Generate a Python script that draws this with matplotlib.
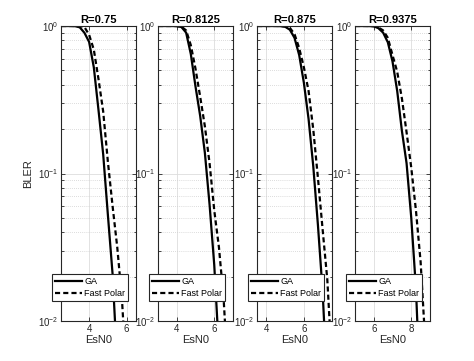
#!/usr/bin/env python3
"""BLER vs EsN0 for four code rates: GA construction vs Fast Polar."""

import matplotlib.pyplot as plt
import numpy as np
from matplotlib.ticker import FixedLocator, LogLocator, NullFormatter

plt.rcParams["font.family"] = ["Liberation Sans", "DejaVu Sans"]

rates = ["R=0.75", "R=0.8125", "R=0.875", "R=0.9375"]
x_limits = [(2.5, 6.5), (3.0, 7.0), (3.5, 7.5), (5.0, 9.0)]
x_ticks = [[4, 6], [4, 6], [4, 6], [6, 8]]

# EsN0 grid and log10(BLER)
esn0_1 = [2.5, 2.75, 3.0, 3.25, 3.5, 3.75, 4.0, 4.25, 4.5, 4.75, 5.0, 5.25, 5.5, 5.75, 6.0]
ga_1 = [0, 0, 0, -0.001, -0.009, -0.046, -0.108, -0.28, -0.57, -0.87, -1.28, -1.68, -2.3, None, None]
fp_1 = [0, 0, 0, 0, -0.001, -0.007, -0.06, -0.16, -0.36, -0.58, -0.92, -1.22, -1.5, -1.85, -2.4]

esn0_2 = [3.0, 3.25, 3.5, 3.75, 4.0, 4.25, 4.5, 4.75, 5.0, 5.25, 5.5, 5.75, 6.0, 6.25, 6.5, 6.75]
ga_2 = [0, 0, 0, 0, -0.001, -0.007, -0.045, -0.19, -0.41, -0.61, -0.86, -1.21, -1.62, -2.2, None, None]
fp_2 = [0, 0, 0, 0, 0, -0.004, -0.03, -0.13, -0.29, -0.48, -0.68, -0.93, -1.25, -1.5, -1.85, -2.4]

esn0_3 = [3.5, 3.75, 4.0, 4.25, 4.5, 4.75, 5.0, 5.25, 5.5, 5.75, 6.0, 6.25, 6.5, 6.75, 7.0, 7.25, 7.5]
ga_3 = [0, 0, 0, 0, 0, -0.001, -0.005, -0.025, -0.08, -0.197, -0.385, -0.63, -0.95, -1.35, -1.8, -2.45, None]
fp_3 = [0, 0, 0, 0, 0, 0, -0.002, -0.012, -0.055, -0.15, -0.28, -0.44, -0.7, -1.03, -1.38, -1.72, -2.3]

esn0_4 = [5.0, 5.25, 5.5, 5.75, 6.0, 6.25, 6.5, 6.75, 7.0, 7.25, 7.5, 7.75, 8.0, 8.25, 8.5, 8.75]
ga_4 = [0, 0, 0, -0.0005, -0.002, -0.015, -0.045, -0.11, -0.24, -0.44, -0.71, -0.93, -1.3, -1.78, -2.55, None]
fp_4 = [0, 0, 0, 0, -0.001, -0.01, -0.03, -0.08, -0.197, -0.31, -0.49, -0.72, -0.96, -1.25, -1.6, -2.15]

esn0 = [esn0_1, esn0_2, esn0_3, esn0_4]
ga = [ga_1, ga_2, ga_3, ga_4]
fast_polar = [fp_1, fp_2, fp_3, fp_4]


def to_bler(logs):
    # None marks points below the plotted range
    return np.array([np.nan if v is None else 10.0 ** v for v in logs])


def main():
    fig = plt.figure(figsize=(4.74, 3.61), dpi=100)
    W, H = 474, 361
    lefts = [61, 158, 257, 355]
    axis_gray = (0.15, 0.15, 0.15)

    for i in range(4):
        ax = fig.add_axes([lefts[i] / W, (H - 321) / H, 75 / W, 295 / H])
        x = np.array(esn0[i])
        ax.plot(x, to_bler(ga[i]), color="black", lw=1.6, label="GA")
        ax.plot(x, to_bler(fast_polar[i]), color="black", lw=1.6,
                linestyle=(0, (2.3, 1.4)), label="Fast Polar")

        ax.set_yscale("log")
        ax.set_ylim(1e-2, 1)
        ax.set_xlim(*x_limits[i])
        ax.xaxis.set_major_locator(FixedLocator(x_ticks[i]))
        ax.yaxis.set_major_locator(LogLocator(base=10, numticks=5))
        ax.yaxis.set_minor_locator(LogLocator(base=10, subs=np.arange(2, 10), numticks=20))
        ax.yaxis.set_minor_formatter(NullFormatter())

        ax.grid(True, which="major", color="#dddddd", lw=0.6)
        ax.grid(True, which="minor", axis="y", color="#d0d0d0", lw=0.6, linestyle=(0, (1, 1.5)))
        ax.set_axisbelow(True)

        ax.tick_params(which="both", direction="in", top=True, right=True,
                       colors=axis_gray, labelsize=7, width=0.6, pad=2)
        ax.tick_params(which="major", length=3)
        ax.tick_params(which="minor", length=1.8)
        for side in ax.spines.values():
            side.set_color(axis_gray)
            side.set_linewidth(0.8)

        ax.set_title(rates[i], fontsize=8, fontweight="bold", pad=2)
        ax.set_xlabel("EsN0", fontsize=8, color=axis_gray, labelpad=1)
        if i == 0:
            ax.set_ylabel("BLER", fontsize=8, color=axis_gray, labelpad=3)

        leg = ax.legend(loc="lower left", bbox_to_anchor=(-0.12, 0.068),
                        borderaxespad=0, fontsize=6.5, frameon=True, fancybox=False,
                        framealpha=1, edgecolor=axis_gray, handlelength=3.0,
                        handletextpad=0.2, borderpad=0.35, labelspacing=0.3)
        leg.get_frame().set_linewidth(0.8)

    fig.savefig("out.png", dpi=100)


if __name__ == "__main__":
    main()
